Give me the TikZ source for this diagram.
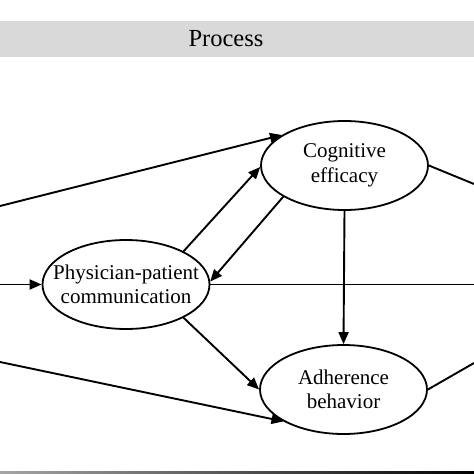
\documentclass[tikz,border=0pt]{standalone}
\usepackage{fontspec}
\setmainfont{Liberation Serif}
\usetikzlibrary{shapes.geometric,arrows.meta}
\tikzset{
  ell/.style={ellipse,draw=black,line width=1.8pt,minimum width=167pt,minimum height=89pt,inner sep=0pt},
  lbl/.style={align=center,inner sep=0pt,font=\fontsize{21}{24.5}\selectfont},
  conn/.style={line width=1.9pt,draw=black},
  arr/.style={conn,-{Triangle[length=12pt,width=10pt]}},
  band/.style={fill=black!15,draw=none}
}
\begin{document}
\begin{tikzpicture}[x=1pt,y=-1pt]
\useasboundingbox (0,0) rectangle (474,474);
\fill[white] (0,0) rectangle (474,474);
% header band
\path[band] (0,21) rectangle (474,57);
\node[inner sep=0pt,font=\fontsize{24.5}{28}\selectfont] (proc) at (226,39) {Process};
% bottom bar
\shade[left color=black!35,right color=black] (0,471) rectangle (474,474);
% ellipses
\node[ell] (cog) at (344.5,165.5) {};
\node[lbl] (cogt) at (cog) {Cognitive\\efficacy};
\node[ell] (phys) at (126,284.5) {};
\node[lbl] (physt) at (phys) {Physician-patient\\communication};
\node[ell] (adh) at (343.5,389.5) {};
\node[lbl] (adht) at (adh) {Adherence\\behavior};
% free ends
\coordinate (l1) at (0,206);
\coordinate (l2) at (0,284.5);
\coordinate (l3) at (0,362);
\coordinate (r1) at (474,184);
\coordinate (r2) at (474,284.5);
\coordinate (r3) at (474,363);
% connectors
\draw[arr] (l1) -- (cog.154);
\draw[arr] (l2) -- (phys.west);
\draw[arr] (l3) -- (adh.208);
\draw[arr] (phys.30) -- (cog.181);
\draw[arr] (cog.207) -- (phys.2);
\draw[conn] (phys.east) -- (r2);
\draw[arr] (cog.south) -- (adh.north);
\draw[arr] (phys.330) -- (adh.west);
\draw[conn] (cog.east) -- (r1);
\draw[conn] (adh.east) -- (r3);
\end{tikzpicture}
\end{document}
